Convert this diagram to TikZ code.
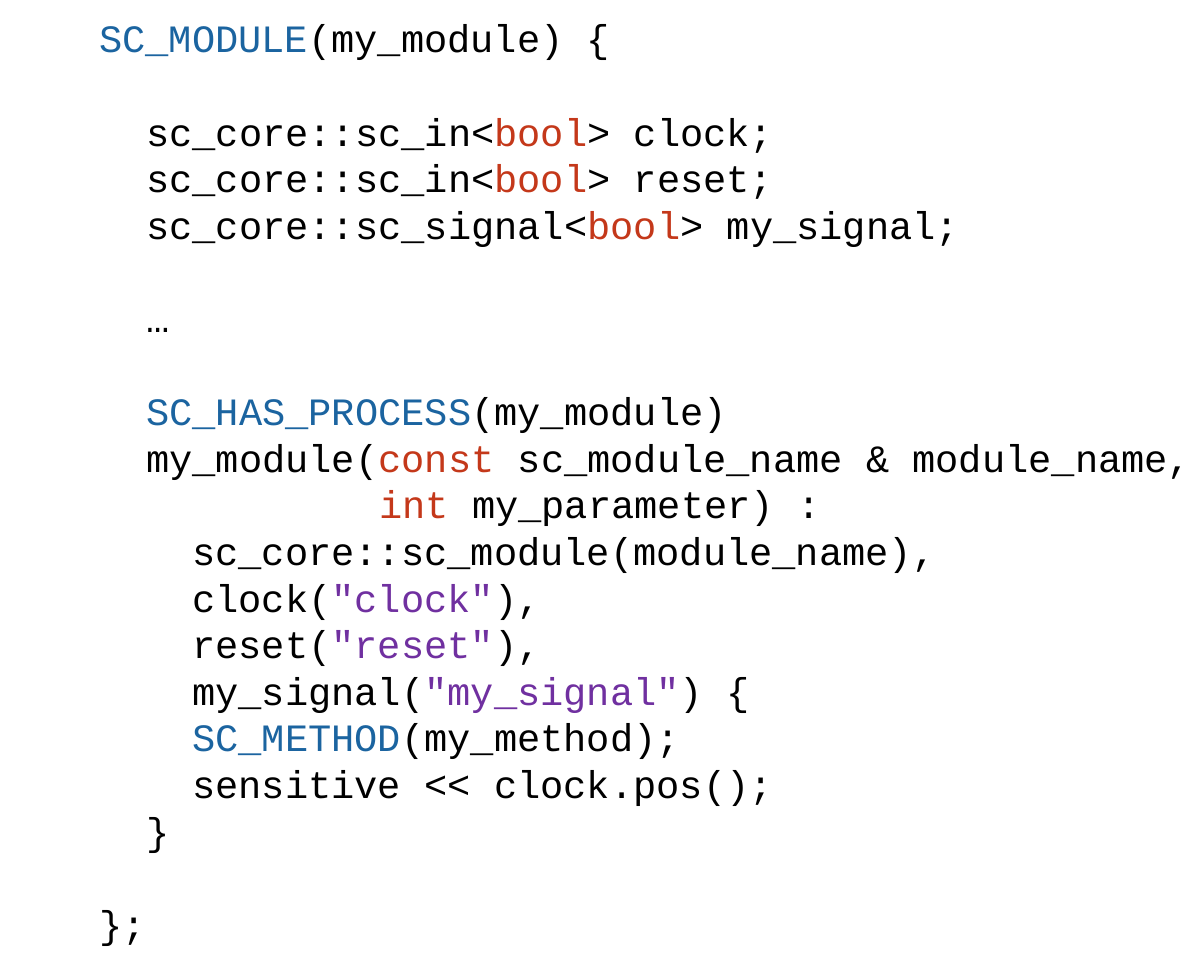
\documentclass[tikz,border=0pt]{standalone}
\usepackage{fontspec}
\setmonofont{Liberation Mono}[Ligatures=NoCommon]
\definecolor{kwb}{HTML}{1B64A0}
\definecolor{kwr}{HTML}{C4381A}
\definecolor{str}{HTML}{7030A0}
\newcommand{\KB}[1]{\textcolor{kwb}{#1}}
\newcommand{\KR}[1]{\textcolor{kwr}{#1}}
\newcommand{\KP}[1]{\textcolor{str}{#1}}
\tikzset{code/.style={anchor=base west,inner sep=0pt,font=\fontsize{38.7}{46}\selectfont\ttfamily}}
\begin{document}
\begin{tikzpicture}[x=1pt,y=1pt]
\useasboundingbox[fill=white] (0,0) rectangle (1199,960);
\def\L#1{960-53-46.6*#1}
\node[code] (l0) at (99,{\L{0}}) {\KB{SC\_MODULE}(my\_module) \{};
\node[code] (l2) at (146,{\L{2}}) {sc\_core::sc\_in<\KR{bool}> clock;};
\node[code] (l3) at (146,{\L{3}}) {sc\_core::sc\_in<\KR{bool}> reset;};
\node[code] (l4) at (146,{\L{4}}) {sc\_core::sc\_signal<\KR{bool}> my\_signal;};
\node[code] (l6) at (146,{\L{6}}) {…};
\node[code] (l8) at (146,{\L{8}}) {\KB{SC\_HAS\_PROCESS}(my\_module)};
\node[code] (l9) at (146,{\L{9}}) {my\_module(\KR{const} sc\_module\_name \& module\_name,};
\node[code] (l10) at (379,{\L{10}}) {\KR{int} my\_parameter) :};
\node[code] (l11) at (192,{\L{11}}) {sc\_core::sc\_module(module\_name),};
\node[code] (l12) at (192,{\L{12}}) {clock(\KP{"clock"}),};
\node[code] (l13) at (192,{\L{13}}) {reset(\KP{"reset"}),};
\node[code] (l14) at (192,{\L{14}}) {my\_signal(\KP{"my\_signal"}) \{};
\node[code] (l15) at (192,{\L{15}}) {\KB{SC\_METHOD}(my\_method);};
\node[code] (l16) at (192,{\L{16}}) {sensitive << clock.pos();};
\node[code] (l17) at (146,{\L{17}}) {\}};
\node[code] (l19) at (99,{\L{19}}) {\};};
\end{tikzpicture}
\end{document}
